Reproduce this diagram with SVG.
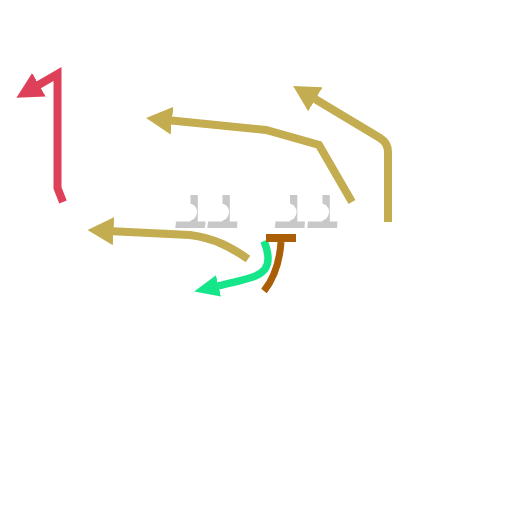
<svg xmlns="http://www.w3.org/2000/svg" xmlns:xlink="http://www.w3.org/1999/xlink" width="512" height="512" viewBox="0 0 512 512">
<style>
.gold{fill:none;stroke:#C4AD50;stroke-width:8}
.red{fill:none;stroke:#DF4059;stroke-width:8;stroke-linejoin:miter}
.green{fill:none;stroke:#16E68A;stroke-width:7.5}
.brown{fill:none;stroke:#AA5E05;stroke-width:7}
.gray{fill:#C8C8C8}
.hole{fill:#FFFFFF}
</style>
<defs>
<marker id="ahGold" markerUnits="userSpaceOnUse" viewBox="0 0 26 28" refX="0.5" refY="14" markerWidth="26" markerHeight="28" orient="auto">
<path d="M0,0 L26,14 L0,28 z" fill="#C4AD50"/>
</marker>
<marker id="ahRed" markerUnits="userSpaceOnUse" viewBox="0 0 26 27" refX="0.5" refY="13.5" markerWidth="26" markerHeight="27" orient="auto">
<path d="M0,0 L26,13.5 L0,27 z" fill="#DF4059"/>
</marker>
<marker id="ahGreen" markerUnits="userSpaceOnUse" viewBox="0 0 25 22" refX="0.5" refY="11" markerWidth="25" markerHeight="22" orient="auto">
<path d="M0,0 L25,11 L0,22 z" fill="#16E68A"/>
</marker>
<g id="player">
<rect class="gray" x="190.5" y="195" width="7.3" height="28"/>
<circle class="hole" cx="188.4" cy="212" r="8.7"/>
<polygon class="gray" points="176,221.5 205.5,221.5 205,228 175.3,228"/>
</g>
</defs>
<g id="connectors">
<path id="route-red" class="red" d="M63,202 L57.5,188 L57.5,74 L38.5,85" marker-end="url(#ahRed)"/>
<path id="route-gold-mid" class="gold" d="M352,202 L319,145 L266,130 L171.5,120.6" marker-end="url(#ahGold)"/>
<path id="route-gold-right" class="gold" d="M388,222 L388,152 Q388,143 380,138 L315,99" marker-end="url(#ahGold)"/>
<path id="route-gold-left" class="gold" d="M248,259 C232,248 215,238 190,235 L113,231.2" marker-end="url(#ahGold)"/>
<path id="route-green" class="green" d="M264,241 C268,251 270,262 265,269 C259,277 248,279 218,286" marker-end="url(#ahGreen)"/>
<g id="route-brown">
<rect x="266" y="234" width="30" height="8" fill="#AA5E05"/>
<path class="brown" d="M281,242 Q279,272 264,291"/>
</g>
</g>
<g id="node-1"><use xlink:href="#player"/></g>
<g id="node-2"><use xlink:href="#player" transform="translate(32,0)"/></g>
<g id="node-3"><use xlink:href="#player" transform="translate(99.5,0)"/></g>
<g id="node-4"><use xlink:href="#player" transform="translate(132,0)"/></g>
</svg>
